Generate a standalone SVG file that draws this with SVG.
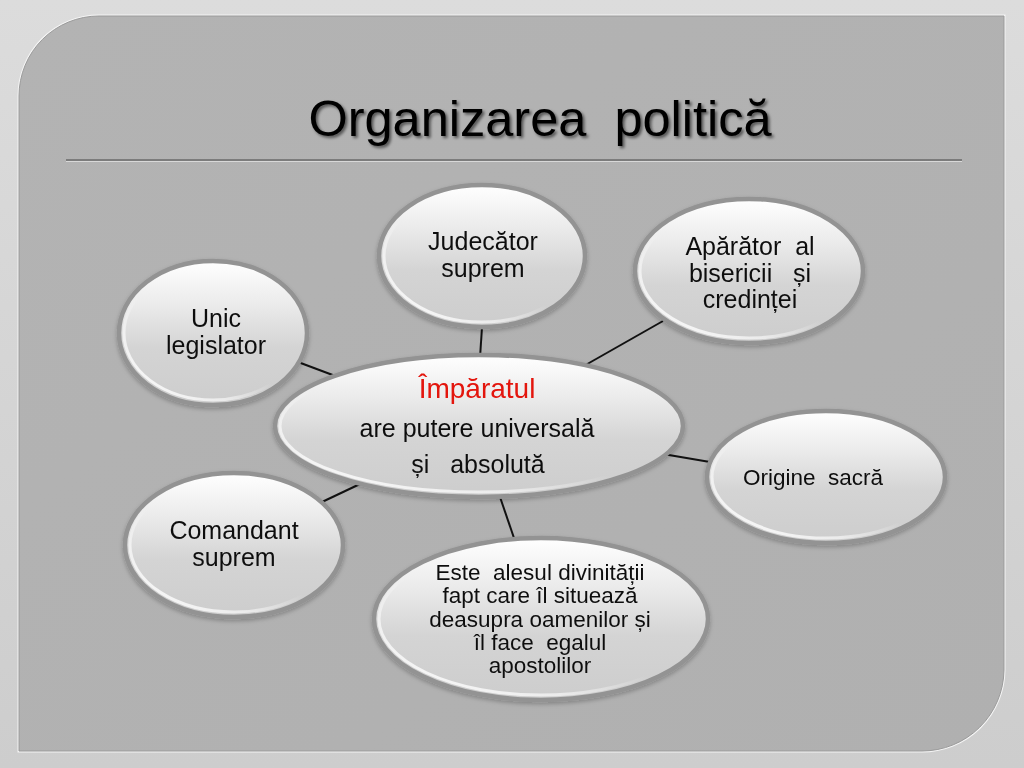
<svg xmlns="http://www.w3.org/2000/svg" width="1024" height="768" viewBox="0 0 1024 768">
  <defs>
    <linearGradient id="bg" x1="0" y1="0" x2="0" y2="1">
      <stop offset="0" stop-color="#dcdcdc"/>
      <stop offset="1" stop-color="#cdcdcd"/>
    </linearGradient>
    <linearGradient id="panelFill" x1="0" y1="0" x2="1" y2="1">
      <stop offset="0" stop-color="#b3b3b3"/>
      <stop offset="1" stop-color="#b0b0b0"/>
    </linearGradient>
    <linearGradient id="bubFill" x1="0" y1="0" x2="0" y2="1">
      <stop offset="0" stop-color="#ffffff"/>
      <stop offset="0.3" stop-color="#ebebeb"/>
      <stop offset="0.6" stop-color="#d4d4d4"/>
      <stop offset="1" stop-color="#cdcdcd"/>
    </linearGradient>
    <linearGradient id="rim" x1="0" y1="1" x2="0.7" y2="0.2">
      <stop offset="0" stop-color="#ffffff" stop-opacity="1"/>
      <stop offset="0.35" stop-color="#ffffff" stop-opacity="0.6"/>
      <stop offset="0.6" stop-color="#ffffff" stop-opacity="0"/>
    </linearGradient>
    <filter id="titleShadow" x="-10%" y="-30%" width="120%" height="160%">
      <feDropShadow dx="2" dy="2" stdDeviation="1.5" flood-color="#000" flood-opacity="0.55"/>
    </filter>
    <filter id="bubShadow" x="-10%" y="-10%" width="120%" height="125%">
      <feDropShadow dx="0" dy="2" stdDeviation="2" flood-color="#000" flood-opacity="0.25"/>
    </filter>
  </defs>
  <style>
    .bub { fill: url(#bubFill); stroke: #939393; stroke-width: 4.5; }
    .rim { fill: none; stroke: url(#rim); stroke-width: 3; }
    .t { font-family: "Liberation Sans", Arial, sans-serif; fill: #111; text-anchor: middle; }
    .n25 { font-size: 25px; }
    .n22 { font-size: 22.5px; }
    .red { fill: #e3120b; font-size: 28px; }
    .conn line { stroke: #111; stroke-width: 2; }
  </style>

  <rect x="0" y="0" width="1024" height="768" fill="url(#bg)"/>

  <g id="panel">
    <path d="M 99 16 H 1004 V 670 A 82 82 0 0 1 922 751 H 19 V 96 A 80 80 0 0 1 99 16 Z" fill="none" stroke="#f4f4f4" stroke-width="3"/>
    <path d="M 99 16 H 1004 V 670 A 82 82 0 0 1 922 751 H 19 V 96 A 80 80 0 0 1 99 16 Z" fill="url(#panelFill)" stroke="#9a9a9a" stroke-width="1"/>
  </g>

  <g id="title">
    <text x="540" y="136" class="t" font-size="50.5" filter="url(#titleShadow)" style="fill:#050505" xml:space="preserve">Organizarea  politică</text>
    <line x1="66" y1="160" x2="962" y2="160" stroke="#6a6a6a" stroke-width="1.5"/>
    <line x1="66" y1="161.5" x2="962" y2="161.5" stroke="#d8d8d8" stroke-width="1"/>
  </g>

  <g id="connectors" class="conn">
    <line x1="298" y1="362" x2="338" y2="377"/>
    <line x1="482" y1="327" x2="480" y2="358"/>
    <line x1="582" y1="367" x2="663" y2="321"/>
    <line x1="663" y1="454" x2="710" y2="462"/>
    <line x1="322" y1="502" x2="360" y2="484"/>
    <line x1="500" y1="497" x2="514" y2="538"/>
  </g>

  <g id="node-judecator" filter="url(#bubShadow)">
    <ellipse class="bub" cx="482" cy="256" rx="103" ry="71"/>
    <ellipse class="rim" cx="482" cy="256" rx="98" ry="66"/>
    <text class="t n25" x="483" y="250">Judecător</text>
    <text class="t n25" x="483" y="277">suprem</text>
  </g>

  <g id="node-aparator" filter="url(#bubShadow)">
    <ellipse class="bub" cx="749" cy="271" rx="114" ry="72"/>
    <ellipse class="rim" cx="749" cy="271" rx="109" ry="67"/>
    <text class="t n25" x="750" y="255" xml:space="preserve">Apărător  al</text>
    <text class="t n25" x="750" y="282" xml:space="preserve">bisericii   și</text>
    <text class="t n25" x="750" y="308">credinței</text>
  </g>

  <g id="node-unic" filter="url(#bubShadow)">
    <ellipse class="bub" cx="213" cy="333" rx="94" ry="72"/>
    <ellipse class="rim" cx="213" cy="333" rx="89" ry="67"/>
    <text class="t n25" x="216" y="327">Unic</text>
    <text class="t n25" x="216" y="354">legislator</text>
  </g>

  <g id="node-imparatul" filter="url(#bubShadow)">
    <ellipse class="bub" cx="479" cy="426" rx="204" ry="71"/>
    <ellipse class="rim" cx="479" cy="426" rx="199" ry="66"/>
    <text class="t red" x="477" y="398">Împăratul</text>
    <text class="t n25" x="477" y="437">are putere universală</text>
    <text class="t n25" x="478" y="473" xml:space="preserve">și   absolută</text>
  </g>

  <g id="node-origine" filter="url(#bubShadow)">
    <ellipse class="bub" cx="826" cy="477" rx="119" ry="66"/>
    <ellipse class="rim" cx="826" cy="477" rx="114" ry="61"/>
    <text class="t n22" x="813" y="485" xml:space="preserve">Origine  sacră</text>
  </g>

  <g id="node-comandant" filter="url(#bubShadow)">
    <ellipse class="bub" cx="234" cy="545" rx="109" ry="72"/>
    <ellipse class="rim" cx="234" cy="545" rx="104" ry="67"/>
    <text class="t n25" x="234" y="539">Comandant</text>
    <text class="t n25" x="234" y="566">suprem</text>
  </g>

  <g id="node-ales" filter="url(#bubShadow)">
    <ellipse class="bub" cx="541" cy="619" rx="167" ry="81"/>
    <ellipse class="rim" cx="541" cy="619" rx="162" ry="76"/>
    <text class="t n22" x="540" y="580" xml:space="preserve">Este  alesul divinității</text>
    <text class="t n22" x="540" y="603">fapt care îl situează</text>
    <text class="t n22" x="540" y="627">deasupra oamenilor și</text>
    <text class="t n22" x="540" y="650" xml:space="preserve">îl face  egalul</text>
    <text class="t n22" x="540" y="673">apostolilor</text>
  </g>
</svg>
